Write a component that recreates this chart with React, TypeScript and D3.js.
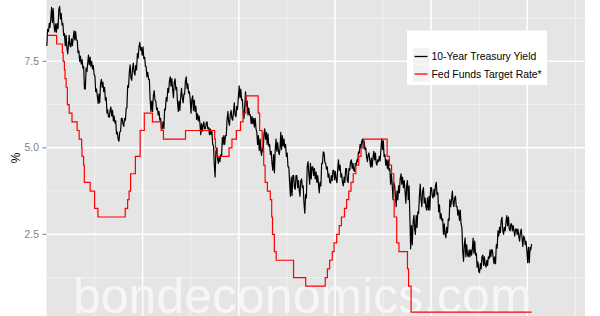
import React from "react";
import * as d3 from "d3";

// 10-year Treasury yield: monthly low / high, Jan 1990 .. Mar 2015
const tsyLow = [
  7.94, 8.36, 8.48, 8.62, 8.55, 8.35, 8.34, 8.45, 8.72, 8.55, 8.25, 7.95,
  7.90, 7.72, 7.95, 7.92, 7.95, 8.12, 8.12, 7.75, 7.50, 7.42, 7.30, 6.70,
  6.70, 7.20, 7.40, 7.35, 7.28, 7.12, 6.62, 6.50, 6.28, 6.30, 6.75, 6.62,
  6.38, 6.00, 5.90, 5.88, 5.92, 5.78, 5.72, 5.40, 5.25, 5.19, 5.48, 5.68,
  5.62, 5.80, 6.15, 6.75, 7.02, 6.95, 7.18, 7.10, 7.25, 7.60, 7.82, 7.68,
  7.58, 7.35, 7.05, 6.98, 6.40, 6.05, 6.05, 6.38, 6.10, 5.95, 5.80, 5.57,
  5.55, 5.55, 6.10, 6.35, 6.60, 6.78, 6.70, 6.45, 6.68, 6.35, 6.05, 6.08,
  6.45, 6.30, 6.55, 6.72, 6.58, 6.38, 6.00, 6.08, 6.05, 5.82, 5.78, 5.72,
  5.38, 5.48, 5.55, 5.55, 5.55, 5.38, 5.38, 5.10, 4.50, 4.16, 4.70, 4.55,
  4.60, 4.75, 5.10, 5.10, 5.35, 5.75, 5.65, 5.85, 5.80, 5.95, 5.90, 6.10,
  6.45, 6.38, 6.02, 5.85, 6.20, 5.95, 5.95, 5.70, 5.70, 5.60, 5.55, 5.10,
  4.92, 4.90, 4.78, 4.90, 5.25, 5.10, 5.05, 4.80, 4.55, 4.35, 4.28, 4.90,
  4.90, 4.80, 4.95, 5.05, 5.00, 4.75, 4.45, 4.00, 3.60, 3.62, 3.85, 3.80,
  3.85, 3.75, 3.60, 3.85, 3.40, 3.11, 3.55, 4.25, 3.95, 4.10, 4.20, 4.10,
  4.00, 3.95, 3.70, 3.90, 4.55, 4.58, 4.38, 4.15, 4.00, 3.98, 4.05, 4.08,
  4.08, 3.99, 4.35, 4.15, 4.00, 3.90, 4.00, 4.05, 4.00, 4.35, 4.40, 4.35,
  4.32, 4.50, 4.60, 4.85, 5.00, 5.00, 4.95, 4.75, 4.60, 4.65, 4.45, 4.45,
  4.65, 4.55, 4.50, 4.60, 4.62, 4.95, 4.75, 4.50, 4.40, 4.35, 3.95, 3.95,
  3.50, 3.60, 3.30, 3.50, 3.70, 3.95, 3.85, 3.75, 3.40, 3.50, 3.00, 2.08,
  2.20, 2.65, 2.50, 2.70, 3.10, 3.50, 3.30, 3.40, 3.30, 3.20, 3.20, 3.20,
  3.60, 3.55, 3.60, 3.65, 3.15, 2.95, 2.90, 2.50, 2.50, 2.40, 2.55, 2.90,
  3.30, 3.40, 3.30, 3.30, 3.05, 2.90, 2.80, 2.05, 1.72, 1.85, 1.90, 1.85,
  1.85, 1.90, 1.95, 1.90, 1.55, 1.43, 1.39, 1.50, 1.60, 1.62, 1.55, 1.60,
  1.80, 1.85, 1.85, 1.65, 1.65, 2.10, 2.45, 2.55, 2.60, 2.50, 2.60, 2.75,
  2.65, 2.60, 2.60, 2.60, 2.45, 2.50, 2.45, 2.30, 2.40, 2.15, 2.20, 2.05,
  1.68, 1.68, 2.05,
];
const tsyHigh = [
  8.43, 8.60, 8.72, 9.06, 9.02, 8.58, 8.60, 9.00, 9.09, 8.88, 8.60, 8.30,
  8.25, 8.00, 8.25, 8.15, 8.18, 8.38, 8.36, 8.10, 7.80, 7.65, 7.55, 7.35,
  7.30, 7.45, 7.68, 7.62, 7.50, 7.38, 7.08, 6.70, 6.55, 6.85, 6.98, 6.90,
  6.75, 6.45, 6.10, 6.08, 6.18, 6.08, 5.92, 5.78, 5.45, 5.45, 5.85, 5.85,
  5.85, 6.15, 6.80, 7.18, 7.40, 7.30, 7.45, 7.38, 7.72, 7.92, 8.05, 7.90,
  7.92, 7.62, 7.35, 7.18, 6.98, 6.35, 6.50, 6.65, 6.35, 6.15, 6.05, 5.85,
  5.75, 6.12, 6.45, 6.72, 6.92, 7.05, 7.00, 6.90, 6.99, 6.75, 6.35, 6.45,
  6.72, 6.55, 6.92, 7.05, 6.85, 6.62, 6.40, 6.50, 6.38, 6.20, 5.98, 5.92,
  5.70, 5.65, 5.75, 5.72, 5.75, 5.58, 5.55, 5.48, 5.05, 4.90, 4.98, 4.72,
  4.80, 5.30, 5.35, 5.35, 5.80, 6.05, 5.95, 6.08, 6.05, 6.30, 6.20, 6.45,
  6.79, 6.70, 6.40, 6.20, 6.62, 6.35, 6.15, 5.95, 5.90, 5.85, 5.85, 5.45,
  5.35, 5.25, 5.00, 5.40, 5.55, 5.45, 5.40, 5.10, 4.90, 4.80, 4.95, 5.25,
  5.15, 5.00, 5.45, 5.35, 5.25, 5.10, 4.85, 4.45, 4.15, 4.20, 4.20, 4.20,
  4.20, 4.05, 4.05, 4.10, 3.90, 3.65, 4.45, 4.60, 4.55, 4.45, 4.45, 4.40,
  4.30, 4.20, 4.00, 4.55, 4.88, 4.85, 4.55, 4.45, 4.25, 4.20, 4.35, 4.35,
  4.32, 4.40, 4.65, 4.50, 4.25, 4.15, 4.40, 4.40, 4.40, 4.60, 4.65, 4.55,
  4.55, 4.65, 4.88, 5.10, 5.18, 5.25, 5.20, 5.00, 4.80, 4.85, 4.70, 4.70,
  4.90, 4.85, 4.65, 4.75, 4.95, 5.26, 5.20, 4.80, 4.65, 4.65, 4.40, 4.25,
  4.00, 3.90, 3.75, 3.90, 4.10, 4.25, 4.15, 4.05, 3.90, 4.05, 3.90, 2.75,
  2.85, 3.05, 3.05, 3.15, 3.60, 3.95, 3.75, 3.85, 3.55, 3.55, 3.60, 3.85,
  3.85, 3.80, 3.90, 4.00, 3.70, 3.35, 3.10, 2.95, 2.80, 2.70, 2.95, 3.50,
  3.50, 3.75, 3.55, 3.60, 3.30, 3.20, 3.20, 2.70, 2.20, 2.40, 2.20, 2.05,
  2.05, 2.08, 2.39, 2.30, 1.95, 1.70, 1.65, 1.85, 1.90, 1.85, 1.75, 1.85,
  2.05, 2.05, 2.05, 1.85, 2.20, 2.60, 2.70, 2.90, 2.99, 2.70, 2.85, 3.04,
  3.00, 2.80, 2.80, 2.75, 2.65, 2.65, 2.65, 2.55, 2.65, 2.45, 2.40, 2.30,
  2.12, 2.12, 2.22,
];

// Fed funds target rate changes
const fedDates = [
  "1990-01-01", "1990-07-13", "1990-10-29", "1990-11-14", "1990-12-07", "1990-12-19",
  "1991-01-09", "1991-02-01", "1991-03-08", "1991-04-30", "1991-08-06", "1991-09-13",
  "1991-10-31", "1991-11-06", "1991-12-06", "1991-12-20",
  "1992-04-09", "1992-07-02", "1992-09-04",
  "1994-02-04", "1994-03-22", "1994-04-18", "1994-05-17", "1994-08-16", "1994-11-15",
  "1995-02-01", "1995-07-06", "1995-12-19", "1996-01-31", "1997-03-25",
  "1998-09-29", "1998-10-15", "1998-11-17",
  "1999-06-30", "1999-08-24", "1999-11-16",
  "2000-02-02", "2000-03-21", "2000-05-16",
  "2001-01-03", "2001-01-31", "2001-03-20", "2001-04-18", "2001-05-15", "2001-06-27",
  "2001-08-21", "2001-09-17", "2001-10-02", "2001-11-06", "2001-12-11",
  "2002-11-06", "2003-06-25",
  "2004-06-30", "2004-08-10", "2004-09-21", "2004-11-10", "2004-12-14",
  "2005-02-02", "2005-03-22", "2005-05-03", "2005-06-30", "2005-08-09", "2005-09-20",
  "2005-11-01", "2005-12-13",
  "2006-01-31", "2006-03-28", "2006-05-10", "2006-06-29",
  "2007-09-18", "2007-10-31", "2007-12-11",
  "2008-01-22", "2008-01-30", "2008-03-18", "2008-04-30", "2008-10-08", "2008-10-29",
  "2008-12-16", "2015-03-23",
];
const fedRates = [
  8.25, 8.0, 7.75, 7.5, 7.25, 7.0,
  6.75, 6.25, 6.0, 5.75, 5.5, 5.25,
  5.0, 4.75, 4.5, 4.0,
  3.75, 3.25, 3.0,
  3.25, 3.5, 3.75, 4.25, 4.75, 5.5,
  6.0, 5.75, 5.5, 5.25, 5.5,
  5.25, 5.0, 4.75,
  5.0, 5.25, 5.5,
  5.75, 6.0, 6.5,
  6.0, 5.5, 5.0, 4.5, 4.0, 3.75,
  3.5, 3.0, 2.5, 2.0, 1.75,
  1.25, 1.0,
  1.25, 1.5, 1.75, 2.0, 2.25,
  2.5, 2.75, 3.0, 3.25, 3.5, 3.75,
  4.0, 4.25,
  4.5, 4.75, 5.0, 5.25,
  4.75, 4.5, 4.25,
  3.5, 3.0, 2.25, 2.0, 1.5, 1.0,
  0.25, 0.25,
];

const yMajor = [2.5, 5.0, 7.5];
const yMinor = [1.25, 3.75, 6.25, 8.75];
const xMajorYears = [1995, 2000, 2005, 2010, 2015];
const xMinorYears = [1992.5, 1997.5, 2002.5, 2007.5, 2012.5, 2017.5];
const seriesNames = ["10-Year Treasury Yield", "Fed Funds Target Rate*"];
const seriesColors = ["#000000", "#ff0000"];
const watermark = "bondeconomics.com";
const yTitle = "%";

const parse = d3.timeParse("%Y-%m-%d");
function yearToDate(y: number): Date {
  const yr = Math.floor(y);
  const start = new Date(yr, 0, 1).getTime();
  const end = new Date(yr + 1, 0, 1).getTime();
  return new Date(start + (y - yr) * (end - start));
}

export default function App() {
  const W = 600;
  const H = 316;
  const left = 46.5;
  const right = 585;
  const x = d3
    .scaleTime()
    .domain([new Date(1990, 0, 1), new Date(2018, 0, 1)])
    .range([left, right]);
  const y = d3.scaleLinear().domain([0, 10]).range([320.8, -25.2]);

  // two points per month (low/high), ordered following the trend
  const tsyPts: [Date, number][] = [];
  const mids = tsyLow.map((l, i) => (l + tsyHigh[i]) / 2);
  for (let i = 0; i < tsyLow.length; i++) {
    const yr = 1990 + Math.floor(i / 12);
    const m = i % 12;
    const next = i + 1 < mids.length ? mids[i + 1] : mids[i];
    const rising = next >= mids[i];
    const a = rising ? tsyLow[i] : tsyHigh[i];
    const b = rising ? tsyHigh[i] : tsyLow[i];
    tsyPts.push([new Date(yr, m, 8), a]);
    tsyPts.push([new Date(yr, m, 23), b]);
  }
  const line = d3
    .line<[Date, number]>()
    .x((d) => x(d[0]))
    .y((d) => y(d[1]));
  const tsyPath = line(tsyPts) || "";

  const fedPts: [Date, number][] = fedDates.map((d, i) => [parse(d) as Date, fedRates[i]]);
  const stepLine = d3
    .line<[Date, number]>()
    .x((d) => x(d[0]))
    .y((d) => y(d[1]))
    .curve(d3.curveStepAfter);
  const fedPath = stepLine(fedPts) || "";

  const font = "'Liberation Sans', Arial, sans-serif";

  return (
    <svg
      width={W}
      height={H}
      style={{ position: "absolute", left: 0, top: 0, background: "#fff" }}
      fontFamily={font}
    >
      <rect x={0} y={0} width={W} height={H} fill="#ffffff" />
      <rect x={left} y={0} width={right - left} height={H} fill="#e5e5e5" />
      {yMinor.map((v) => (
        <line key={"ym" + v} x1={left} x2={right} y1={y(v)} y2={y(v)} stroke="#f2f2f2" strokeWidth={1} />
      ))}
      {xMinorYears.map((v) => (
        <line key={"xm" + v} x1={x(yearToDate(v))} x2={x(yearToDate(v))} y1={0} y2={H} stroke="#f2f2f2" strokeWidth={1} />
      ))}
      {yMajor.map((v) => (
        <line key={"yM" + v} x1={left} x2={right} y1={y(v)} y2={y(v)} stroke="#ffffff" strokeWidth={1.5} />
      ))}
      {xMajorYears.map((v) => (
        <line key={"xM" + v} x1={x(yearToDate(v))} x2={x(yearToDate(v))} y1={0} y2={H} stroke="#ffffff" strokeWidth={1.5} />
      ))}
      <text x={73} y={313} fontSize={50} fill="#f6f6f6" fontFamily={font}>
        {watermark}
      </text>
      <path d={tsyPath} fill="none" stroke={seriesColors[0]} strokeWidth={1.2} strokeLinejoin="round" />
      <path d={fedPath} fill="none" stroke={seriesColors[1]} strokeWidth={1.2} />
      {yMajor.map((v) => (
        <g key={"yt" + v}>
          <line x1={42.5} x2={left} y1={y(v)} y2={y(v)} stroke="#7f7f7f" strokeWidth={1} />
          <text x={39} y={y(v)} dy="0.35em" textAnchor="end" fontSize={10.4} fill="#7f7f7f">
            {d3.format(".1f")(v)}
          </text>
        </g>
      ))}
      <text
        transform={`translate(20,158) rotate(-90)`}
        textAnchor="middle"
        fontSize={12}
        fill="#000"
      >
        {yTitle}
      </text>
      <g>
        <rect x={407} y={30.5} width={140} height={54.5} fill="#ffffff" />
        {seriesNames.map((n, i) => (
          <g key={n}>
            <rect x={413} y={48 + i * 17} width={16.5} height={16.5} fill="#f2f2f2" />
            <line
              x1={414.5}
              x2={427.5}
              y1={56.5 + i * 17.5}
              y2={56.5 + i * 17.5}
              stroke={seriesColors[i]}
              strokeWidth={1.3}
            />
            <text x={431.5} y={56.5 + i * 17.5} dy="0.35em" fontSize={10.4} fill="#000">
              {n}
            </text>
          </g>
        ))}
      </g>
    </svg>
  );
}
